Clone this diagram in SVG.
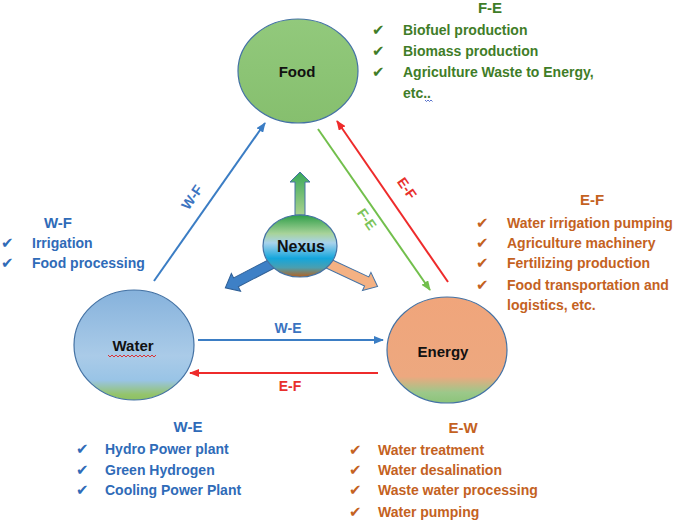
<svg xmlns="http://www.w3.org/2000/svg" width="685" height="523" viewBox="0 0 685 523">
<defs>
<style>
text{font-family:"Liberation Sans",Arial,sans-serif;font-weight:bold;}
.lbl{font-size:15px;fill:#111;text-anchor:middle;}
.item{font-size:14px;}
.hd{font-size:15px;text-anchor:middle;}
.ck{font-family:"DejaVu Sans",sans-serif;font-size:15px;font-weight:normal;}
.g{fill:#3f7d28;} .o{fill:#c4621f;} .b{fill:#2f6bb8;}
.node{stroke:#4472a4;stroke-width:1.2;}
.conn{fill:none;stroke-width:2;}
.ln{font-size:14px;text-anchor:middle;}
</style>
<linearGradient id="gFood" x1="0" y1="0" x2="0" y2="1">
<stop offset="0" stop-color="#92c97c"/><stop offset="1" stop-color="#86bf6e"/>
</linearGradient>
<linearGradient id="gWater" x1="0" y1="0" x2="0" y2="1">
<stop offset="0" stop-color="#86b2dc"/><stop offset="0.6" stop-color="#aacbe8"/><stop offset="0.82" stop-color="#99c4e6"/><stop offset="0.95" stop-color="#94c46c"/><stop offset="1" stop-color="#8cc063"/>
</linearGradient>
<linearGradient id="gEnergy" x1="0" y1="0" x2="0" y2="1">
<stop offset="0" stop-color="#f0a57b"/><stop offset="0.75" stop-color="#eda87f"/><stop offset="0.9" stop-color="#9cc88a"/><stop offset="1" stop-color="#8cc47a"/>
</linearGradient>
<linearGradient id="gNexus" x1="0" y1="0" x2="0" y2="1">
<stop offset="0" stop-color="#2e9e48"/><stop offset="0.3" stop-color="#a8d39a"/><stop offset="0.45" stop-color="#a8d2ec"/><stop offset="0.7" stop-color="#14a6dc"/><stop offset="0.85" stop-color="#4a9fb0"/><stop offset="1" stop-color="#b4601e"/>
</linearGradient>
<linearGradient id="gUp" x1="0" y1="0" x2="0" y2="1">
<stop offset="0" stop-color="#3aa85a"/><stop offset="1" stop-color="#a9d28e"/>
</linearGradient>
<marker id="mBlue" viewBox="0 0 10 8" refX="9" refY="4" markerWidth="10" markerHeight="8" markerUnits="userSpaceOnUse" orient="auto"><path d="M0,0 L10,4 L0,8 Z" fill="#3b7dc4"/></marker>
<marker id="mRed" viewBox="0 0 10 8" refX="9" refY="4" markerWidth="10" markerHeight="8" markerUnits="userSpaceOnUse" orient="auto"><path d="M0,0 L10,4 L0,8 Z" fill="#ee2b2b"/></marker>
<marker id="mGreen" viewBox="0 0 10 8" refX="9" refY="4" markerWidth="10" markerHeight="8" markerUnits="userSpaceOnUse" orient="auto"><path d="M0,0 L10,4 L0,8 Z" fill="#72bf4c"/></marker>
</defs>
<rect width="685" height="523" fill="#ffffff"/>

<g id="connectors">
<line class="conn" x1="154" y1="281" x2="265" y2="123" stroke="#3b7dc4" marker-end="url(#mBlue)"/>
<line class="conn" x1="318" y1="129" x2="430" y2="290" stroke="#72bf4c" marker-end="url(#mGreen)"/>
<line class="conn" x1="448" y1="282" x2="337" y2="121" stroke="#ee2b2b" marker-end="url(#mRed)"/>
<line class="conn" x1="198" y1="340" x2="383" y2="340" stroke="#3b7dc4" marker-end="url(#mBlue)"/>
<line class="conn" x1="378" y1="373" x2="190" y2="373" stroke="#ee2b2b" marker-end="url(#mRed)"/>
<text class="ln" fill="#3b73c0" transform="translate(196,200) rotate(-55)">W-F</text>
<text class="ln" fill="#7cc45a" transform="translate(363,222) rotate(55)">F-E</text>
<text class="ln" fill="#e8302c" transform="translate(403,191) rotate(55)">E-F</text>
<text class="ln" fill="#3b73c0" x="288" y="333">W-E</text>
<text class="ln" fill="#e8302c" x="290" y="391">E-F</text>
</g>

<g id="nexus-arrows">
<path d="M295,215 L295,182 L290,182 L300,172 L310,182 L305,182 L305,215 Z" fill="url(#gUp)" stroke="#4472a4" stroke-width="1"/>
<path transform="translate(275,262) rotate(152.5)" d="M0,-5 L44,-5 L44,-10 L56,0 L44,10 L44,5 L0,5 Z" fill="#3e80c6" stroke="#2f5f96" stroke-width="1"/>
<path transform="translate(325,262) rotate(25)" d="M0,-5 L46,-5 L46,-10 L58,0 L46,10 L46,5 L0,5 Z" fill="#f4b183" stroke="#4472a4" stroke-width="1"/>
</g>

<g id="food">
<ellipse class="node" cx="298" cy="71" rx="60" ry="52" fill="url(#gFood)"/>
<text class="lbl" x="297" y="77">Food</text>
</g>

<g id="water">
<ellipse class="node" cx="134" cy="345" rx="60" ry="55" fill="url(#gWater)"/>
<text class="lbl" x="133" y="351">Water</text>
<path d="M108,355 l2,2 l2,-2 l2,2 l2,-2 l2,2 l2,-2 l2,2 l2,-2 l2,2 l2,-2 l2,2 l2,-2 l2,2 l2,-2 l2,2 l2,-2 l2,2 l2,-2 l2,2 l2,-2 l2,2 l2,-2 l2,2 l2,-2" fill="none" stroke="#e02020" stroke-width="0.9"/>
</g>

<g id="energy">
<ellipse class="node" cx="447" cy="350" rx="60" ry="53" fill="url(#gEnergy)"/>
<text class="lbl" x="443" y="357">Energy</text>
</g>

<g id="nexus">
<ellipse class="node" cx="300" cy="246" rx="37" ry="31" fill="url(#gNexus)"/>
<text class="lbl" x="301" y="252" style="font-size:16px">Nexus</text>
</g>

<g id="fe-list">
<text class="hd g" x="490" y="13">F-E</text>
<text class="ck g" x="372" y="35">✔</text><text class="item g" x="403" y="35">Biofuel production</text>
<text class="ck g" x="372" y="56">✔</text><text class="item g" x="403" y="56">Biomass production</text>
<text class="ck g" x="372" y="77">✔</text><text class="item g" x="403" y="77">Agriculture Waste to Energy,</text>
<text class="item g" x="403" y="98">etc..</text>
<path d="M425,100 l1.5,1.5 l1.5,-1.5 l1.5,1.5 l1.5,-1.5 l1.5,1.5" fill="none" stroke="#3050c0" stroke-width="0.8"/>
</g>

<g id="ef-list">
<text class="hd o" x="592" y="205">E-F</text>
<text class="ck o" x="476" y="228">✔</text><text class="item o" x="507" y="228">Water irrigation pumping</text>
<text class="ck o" x="476" y="248">✔</text><text class="item o" x="507" y="248">Agriculture machinery</text>
<text class="ck o" x="476" y="268">✔</text><text class="item o" x="507" y="268">Fertilizing production</text>
<text class="ck o" x="476" y="290">✔</text><text class="item o" x="507" y="290">Food transportation and</text>
<text class="item o" x="507" y="310">logistics, etc.</text>
</g>

<g id="wf-list">
<text class="hd b" x="58" y="228">W-F</text>
<text class="ck b" x="1" y="248">✔</text><text class="item b" x="32" y="248">Irrigation</text>
<text class="ck b" x="1" y="268">✔</text><text class="item b" x="32" y="268">Food processing</text>
</g>

<g id="we-list">
<text class="hd b" x="188" y="432">W-E</text>
<text class="ck b" x="76" y="454">✔</text><text class="item b" x="105" y="454">Hydro Power plant</text>
<text class="ck b" x="76" y="475">✔</text><text class="item b" x="105" y="475">Green Hydrogen</text>
<text class="ck b" x="76" y="495">✔</text><text class="item b" x="105" y="495">Cooling Power Plant</text>
</g>

<g id="ew-list">
<text class="hd o" x="463" y="433">E-W</text>
<text class="ck o" x="349" y="455">✔</text><text class="item o" x="378" y="455">Water treatment</text>
<text class="ck o" x="349" y="475">✔</text><text class="item o" x="378" y="475">Water desalination</text>
<text class="ck o" x="349" y="495">✔</text><text class="item o" x="378" y="495">Waste water processing</text>
<text class="ck o" x="349" y="517">✔</text><text class="item o" x="378" y="517">Water pumping</text>
</g>
</svg>
